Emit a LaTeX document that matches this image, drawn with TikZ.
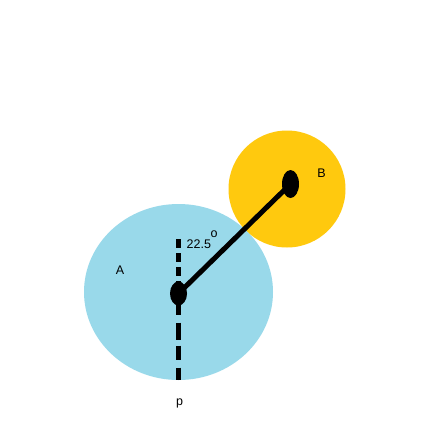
\documentclass[tikz,border=0pt]{standalone}
\usepackage{fontspec}
\setmainfont{Liberation Sans}
\usetikzlibrary{shapes.geometric}
\definecolor{paleblue}{HTML}{99D9EA}
\definecolor{goldy}{HTML}{FFC90E}
\begin{document}
\begin{tikzpicture}[x=1pt,y=-1pt,
  pivot/.style={ellipse,fill=black,draw=none,inner sep=0pt,minimum width=17pt,minimum height=#1},
  rod/.style={line width=5pt,black},
  axis/.style={line width=5pt,black},
  lbl/.style={inner sep=0pt,anchor=base,font=\fontsize{12.5}{14}\selectfont}]
\useasboundingbox (0,0) rectangle (447,445);
\fill[white] (0,0) rectangle (447,445);
% discs
\fill[goldy] (287,189) ellipse [x radius=58.5,y radius=58.5];
\fill[paleblue] (178.5,292) ellipse [x radius=94.5,y radius=88];
% pivots
\coordinate (pa) at (178.5,293.5);
\coordinate (pb) at (290.5,184);
\coordinate (top) at (178.5,239);
\coordinate (bot) at (178.5,380);
% dashed vertical
\draw[axis,dash pattern=on 9pt off 5pt] (top) -- (pa);
\draw[axis,dash pattern=on 21pt off 8pt on 17pt off 6pt on 14pt off 8pt on 20pt] (pa) -- (bot);
% rod
\draw[rod] (pa) -- (pb);
\node[pivot=24pt] (na) at (pa) {};
\node[pivot=28pt] (nb) at (pb) {};
% labels
\node[lbl] (la) at (120,274) {A};
\node[lbl] (lb) at (321.5,177) {B};
\node[lbl] (lp) at (179.5,405) {p};
\node[lbl,anchor=base west] (ang) at (186.5,248) {22.5\kern-0.5pt\raisebox{11pt}{o}};
\end{tikzpicture}
\end{document}
